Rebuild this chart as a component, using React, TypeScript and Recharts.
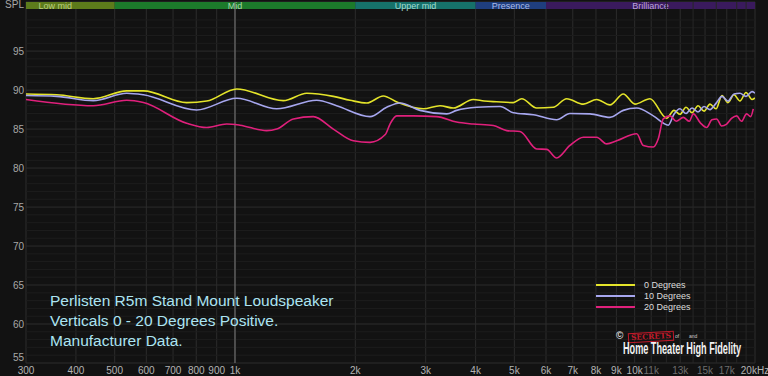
import {
  CartesianGrid,
  Line,
  LineChart,
  ReferenceArea,
  ReferenceLine,
  XAxis,
  YAxis,
} from "recharts";

// frequency (Hz) / SPL (dB) pairs
const deg0Freq = [300, 358, 442, 536, 590, 757, 850, 1010, 1321, 1512, 1762, 1940, 2136, 2350, 2558, 2959, 3258, 3517, 3946, 4200, 4515, 4970, 5217, 5687, 6256, 6758, 7440, 8033, 8673, 9363, 10018, 10922, 12024, 12540, 12982, 13440, 13914, 14405, 14912, 15433, 15975, 16536, 17118, 17719, 18342, 18989, 19657, 20000];
const deg0Spl = [89.5, 89.4, 88.9, 89.9, 89.9, 88.4, 88.6, 90.15, 88.65, 89.6, 89.2, 88.7, 88.35, 89.25, 88.4, 87.6, 88.0, 87.7, 88.8, 88.6, 88.5, 88.4, 88.9, 87.7, 87.8, 88.9, 88.2, 88.8, 88.1, 89.5, 88.2, 88.9, 86.4, 87.4, 86.9, 87.8, 87.1, 88.0, 87.3, 88.2, 87.6, 89.3, 88.4, 89.4, 88.6, 89.7, 88.8, 89.0];

const deg10Freq = [300, 358, 442, 536, 590, 802, 1010, 1272, 1601, 1796, 2177, 2396, 2588, 2903, 3386, 3585, 4026, 4605, 4970, 5577, 6380, 6888, 7729, 8673, 9363, 10117, 11131, 12136, 12540, 12982, 13440, 13914, 14405, 14912, 15433, 15975, 16536, 17118, 17719, 18342, 18989, 19657, 20000];
const deg10Spl = [89.3, 89.2, 88.65, 89.6, 89.4, 87.45, 88.95, 87.6, 88.7, 88.0, 86.6, 87.8, 88.35, 87.4, 86.95, 87.4, 87.8, 87.9, 87.1, 86.85, 86.2, 87.0, 86.95, 86.5, 87.4, 87.7, 86.7, 85.5, 86.9, 87.6, 87.0, 87.7, 87.2, 87.9, 87.5, 88.3, 89.2, 88.6, 89.5, 89.6, 89.2, 89.8, 89.6];

const deg20Freq = [300, 442, 536, 590, 757, 850, 953, 1029, 1200, 1272, 1400, 1570, 1762, 1977, 2177, 2377, 2443, 2538, 2793, 3196, 3585, 3946, 4429, 4786, 5166, 5687, 6024, 6380, 6888, 7440, 8033, 8510, 9015, 10117, 10508, 11131, 11457, 11790, 12255, 12700, 13232, 13700, 14017, 14600, 15141, 15600, 16037, 16500, 16989, 17500, 17998, 18500, 19060, 19500, 19800];
const deg20Spl = [88.8, 88.0, 88.7, 88.4, 85.75, 85.2, 85.65, 85.5, 84.8, 85.0, 86.3, 86.6, 85.0, 83.5, 83.3, 84.3, 85.65, 86.7, 86.7, 86.6, 85.9, 85.65, 85.45, 84.8, 84.7, 82.45, 82.4, 81.3, 82.9, 83.95, 83.95, 83.1, 83.5, 84.4, 82.9, 82.7, 83.75, 86.3, 86.7, 86.0, 86.5, 86.0, 86.95, 85.8, 85.2, 86.2, 86.3, 85.4, 85.65, 86.4, 86.7, 86.0, 86.95, 86.6, 87.6];

const freqTicks = [300, 400, 500, 600, 700, 800, 900, 1000, 2000, 3000, 4000, 5000, 6000, 7000, 8000, 9000, 10000, 11000, 13000, 15000, 17000, 20000];
const dimTicks = [11000, 13000, 15000, 17000];
const extraFreqLines = [12000, 14000, 16000, 18000, 19000];
const splTicks = [55, 60, 65, 70, 75, 80, 85, 90, 95, 101];
const minorSpl = Array.from({ length: 45 }, (_, i) => 56 + i).filter((v) => v % 5 !== 0);

const bandNames = ["Low mid", "Mid", "Upper mid", "Presence", "Brilliance"];
const bandStart = [300, 500, 2000, 4000, 6000];
const bandEnd = [500, 2000, 4000, 6000, 20000];
const bandFill = ["#5d7b1b", "#1c7a2b", "#16716a", "#1f3e7e", "#3a1a5d"];
const bandText = ["#bccf80", "#a4d8a8", "#a2dbd3", "#aabbe8", "#bca4dc"];
const bandShift = [-15, 0, 0, 0, 0];

const seriesNames = ["0 Degrees", "10 Degrees", "20 Degrees"];
const seriesColors = ["#e4e42a", "#a6a6ee", "#e0207c"];

const toPoints = (f: number[], v: number[]) => f.map((x, i) => ({ f: x, v: v[i] }));
const series = [
  toPoints(deg0Freq, deg0Spl),
  toPoints(deg10Freq, deg10Spl),
  toPoints(deg20Freq, deg20Spl),
];

const fmtFreq = (f: number) => {
  if (f === 20000) return "20kHz";
  if (f >= 1000) return `${f / 1000}k`;
  return `${f}`;
};

const FONT = "'Liberation Sans', Arial, sans-serif";

const XTick = (props: any) => {
  const { x, y, payload } = props;
  const dim = dimTicks.includes(payload.value);
  return (
    <text x={x} y={y + 9} textAnchor="middle" fontSize={10} fontFamily={FONT} fill={dim ? "#6e6e6e" : "#b4b4b4"}>
      {fmtFreq(payload.value)}
    </text>
  );
};

const YTick = (props: any) => {
  const { x, y, payload } = props;
  // the bottom label sits just above the frequency labels
  const dy = payload.value === 55 ? -2 : 3.5;
  return (
    <text x={x} y={y + dy} textAnchor="end" fontSize={10} fontFamily={FONT} fill="#a8a8a8">
      {payload.value === 101 ? "SPL" : payload.value}
    </text>
  );
};

const bandLabel = (i: number) => (props: any) => {
  const vb = props.viewBox || {};
  return (
    <text
      x={vb.x + vb.width / 2 + bandShift[i]}
      y={vb.y + vb.height / 2 + 3}
      textAnchor="middle"
      fontSize={9}
      fontFamily={FONT}
      fill={bandText[i]}
    >
      {bandNames[i]}
    </text>
  );
};

export default function App() {
  return (
    <div style={{ position: "absolute", left: 0, top: 0, width: 768, height: 376, background: "#121212", overflow: "hidden" }}>
      <LineChart width={768} height={376} margin={{ top: 2, right: 13, bottom: 0, left: 0 }}>
        <CartesianGrid stroke="#2c2c2c" strokeWidth={1} />
        {minorSpl.map((v) => (
          <ReferenceLine key={`m${v}`} y={v} stroke="#1d1d1d" strokeWidth={1} />
        ))}
        {extraFreqLines.map((f) => (
          <ReferenceLine key={`f${f}`} x={f} stroke="#262626" strokeWidth={1} />
        ))}
        <ReferenceLine x={1000} stroke="#7c7c7c" strokeWidth={1} />
        <XAxis
          dataKey="f"
          type="number"
          scale="log"
          domain={[300, 20000]}
          ticks={freqTicks}
          allowDataOverflow
          axisLine={false}
          tickLine={false}
          tickSize={0}
          height={13}
          interval={0}
          tick={<XTick />}
        />
        <YAxis
          type="number"
          domain={[55, 101.3]}
          ticks={splTicks}
          allowDataOverflow
          axisLine={false}
          tickLine={false}
          tickSize={0}
          tickMargin={2}
          width={26}
          interval={0}
          tick={<YTick />}
        />
        {bandNames.map((name, i) => (
          <ReferenceArea
            key={name}
            x1={bandStart[i]}
            x2={bandEnd[i]}
            y1={100.4}
            y2={101.3}
            fill={bandFill[i]}
            fillOpacity={1}
            stroke="none"
            label={bandLabel(i)}
          />
        ))}
        {series.map((pts, i) => (
          <Line
            key={seriesNames[i]}
            data={pts}
            dataKey="v"
            type="monotone"
            stroke={seriesColors[i]}
            strokeWidth={1.6}
            dot={false}
            isAnimationActive={false}
          />
        ))}
      </LineChart>

      {/* legend */}
      <div style={{ position: "absolute", left: 596, top: 279, fontFamily: FONT, fontSize: 9, color: "#dcdcdc" }}>
        {seriesNames.map((name, i) => (
          <div key={name} style={{ display: "flex", alignItems: "center", height: 11 }}>
            <div style={{ width: 39, height: 2, background: seriesColors[i], marginRight: 9 }} />
            <span>{name}</span>
          </div>
        ))}
      </div>

      {/* annotation */}
      <div style={{ position: "absolute", left: 50, top: 291, fontFamily: FONT, fontSize: 15.5, lineHeight: "20px", color: "#ace4f2" }}>
        <div>Perlisten R5m Stand Mount Loudspeaker</div>
        <div>Verticals 0 - 20 Degrees Positive.</div>
        <div>Manufacturer Data.</div>
      </div>

      {/* logo */}
      <div style={{ position: "absolute", left: 616, top: 331, width: 130, height: 26, fontFamily: FONT }}>
        <div style={{ position: "absolute", left: 0, top: 0, fontSize: 10, lineHeight: "10px", color: "#ddd", fontWeight: 700 }}>©</div>
        <div
          style={{
            position: "absolute",
            left: 12,
            top: 1,
            border: "1.5px solid #c21a2a",
            color: "#c21a2a",
            fontSize: 7.5,
            fontWeight: 700,
            padding: "0 2px",
            lineHeight: "8px",
            transform: "rotate(-3deg)",
            fontFamily: "'DejaVu Serif', serif",
          }}
        >
          SECRETS
        </div>
        <div style={{ position: "absolute", left: 59, top: 2, fontSize: 5, lineHeight: "6px", color: "#ccc" }}>of</div>
        <div style={{ position: "absolute", left: 73, top: 2, fontSize: 5, lineHeight: "6px", color: "#ccc" }}>and</div>
        <div
          style={{
            position: "absolute",
            left: 7,
            top: 10,
            fontSize: 16,
            fontWeight: 700,
            color: "#f2f2f2",
            whiteSpace: "nowrap",
            transform: "scaleX(0.57)",
            transformOrigin: "left top",
            lineHeight: "16px",
          }}
        >
          Home Theater High Fidelity
        </div>
      </div>
    </div>
  );
}
